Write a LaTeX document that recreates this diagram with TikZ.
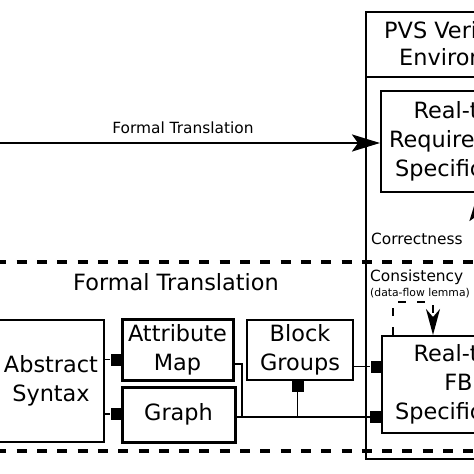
\documentclass[tikz,border=0pt]{standalone}
\usepackage{fontspec}
\setmainfont{DejaVu Sans}
\usetikzlibrary{arrows.meta}
\newcommand{\bigf}{\fontsize{22.4}{28.7}\selectfont}
\newcommand{\smallf}{\fontsize{15.4}{18}\selectfont}
\newcommand{\tinyf}{\fontsize{10.8}{13}\selectfont}
\tikzset{
  box/.style={draw, line width=#1, inner sep=0pt, align=center, font=\bigf},
  box/.default=2pt,
  port/.style={fill=black, draw=none, minimum size=12pt, inner sep=0pt},
  conn/.style={line width=1.4pt},
  bigarrow/.style={line width=2.6pt, -{Stealth[length=28pt,width=17pt,inset=6pt]}},
  dasharrow/.style={line width=1.7pt, dash pattern=on 8pt off 11pt, -{Stealth[length=26pt,width=14pt,inset=8pt]}},
  region/.style={line width=3.3pt, dash pattern=on 10pt off 10.3pt},
  lbl/.style={inner sep=0pt, font=\smallf}
}
\begin{document}
\begin{tikzpicture}[x=1pt,y=-1pt]
\useasboundingbox (0,0) rectangle (474,474);
\clip (0,0) rectangle (474,474);
\fill[white] (0,0) rectangle (474,474);
% Formal translation dashed region (edges)
\coordinate (rtl) at (-3.6,262);
\coordinate (rtr) at (500,262);
\coordinate (rbl) at (-3.6,451);
\coordinate (rbr) at (500,451);
\draw[region] (rtl) -- (rtr);
\draw[region] (rbl) -- (rbr);
% PVS outer
\node[draw, line width=2.2pt, minimum width=260pt, minimum height=447pt, inner sep=0pt] (pvs) at (496,235.5) {};
\coordinate (divl) at (366,77);
\coordinate (divr) at (640,77);
\draw[line width=1.6pt] (divl) -- (divr);
\node[inner sep=0pt, anchor=west, font=\bigf] (pvst1) at (384,30.5) {PVS Verification};
\node[inner sep=0pt, anchor=west, font=\bigf] (pvst2) at (399,57.5) {Environment};
% boxes
\node[box=2pt, minimum width=172pt, minimum height=101pt] (req) at (467,141.5) {Real-time\\Requirements\\Specification};
\node[box=2pt, minimum width=170pt, minimum height=97pt] (fb) at (467,384.5) {Real-time\\FBD\\Specification};
\node[box=2.3pt, minimum width=106pt, minimum height=122pt] (abs) at (51,381) {Abstract\\Syntax};
\node[box=3pt, minimum width=111pt, minimum height=61pt] (attr) at (177.5,349.5) {Attribute\\Map};
\node[box=3pt, minimum width=113pt, minimum height=55pt] (graph) at (178.5,414.5) {Graph};
\node[box=2pt, minimum width=106pt, minimum height=60pt] (block) at (300,350) {Block\\Groups};
% labels
\node[lbl] (ftl) at (183,128) {Formal Translation};
\node[inner sep=0pt, font=\bigf] (ftt) at (176,282) {Formal Translation};
\node[lbl, anchor=base west] (corr) at (371,244) {Correctness};
\node[lbl, anchor=west] (cons) at (370,277) {Consistency};
\node[inner sep=0pt, anchor=west, font=\tinyf] (dfl) at (370,293) {(data-flow lemma)};
% ports
\node[port] (p1) at (116.5,359.5) {};
\node[port] (p2) at (116.5,414) {};
\node[port] (p3) at (297.5,386) {};
\node[port] (p4) at (376.5,366.5) {};
\node[port] (p5) at (376,417) {};
\coordinate (src) at (0,143);
\coordinate (j1) at (242,417);
% arrows
\draw[bigarrow] (src) -- (req.west |- src);
\draw[bigarrow] (fb.north -| {(478,0)}) -- (req.south -| {(478,0)});
\draw[dasharrow] (fb.north -| {(393,0)}) -- ++(0,-33) -| (fb.north -| {(433,0)});
% connectors
\draw[conn] (abs.east |- p1) -- (p1.west);
\draw[conn] (abs.east |- p2) -- (p2.west);
\draw[conn] (attr.east |- {(0,364)}) -| (j1);
\draw[conn] (graph.east |- p5) -- (p5.west);
\draw[conn] (p3.south) -- (p3.south |- p5);
\draw[conn] (block.east |- p4) -- (p4.west);
\end{tikzpicture}
\end{document}
